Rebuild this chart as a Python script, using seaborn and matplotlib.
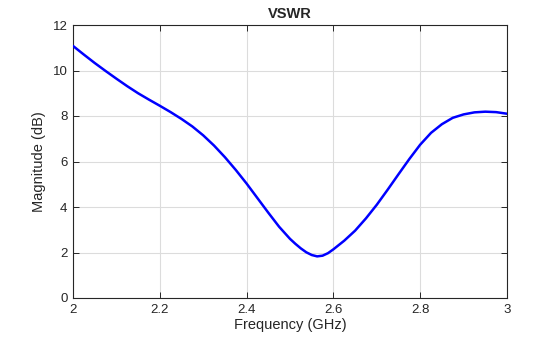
import matplotlib
matplotlib.use("Agg")
import matplotlib.pyplot as plt
import seaborn as sns
import pandas as pd

freq_ghz = [2.000, 2.025, 2.050, 2.075, 2.100, 2.125, 2.150, 2.175, 2.200, 2.225,
            2.250, 2.275, 2.300, 2.325, 2.350, 2.375, 2.400, 2.425, 2.450, 2.475,
            2.500, 2.5125, 2.525, 2.5375, 2.550, 2.5625, 2.575, 2.5875, 2.600,
            2.625, 2.650, 2.675, 2.700, 2.725,
            2.750, 2.775, 2.800, 2.825, 2.850, 2.875, 2.900, 2.925, 2.950, 2.975,
            3.000]
vswr = [11.08, 10.70, 10.33, 9.98, 9.64, 9.31, 9.00, 8.72, 8.45, 8.17,
        7.87, 7.54, 7.15, 6.70, 6.19, 5.63, 5.03, 4.39, 3.75, 3.13,
        2.60, 2.38, 2.18, 2.01, 1.89, 1.83, 1.86, 1.97, 2.14,
        2.52, 2.96, 3.50, 4.10, 4.76,
        5.44, 6.11, 6.74, 7.26, 7.64, 7.92, 8.07, 8.16, 8.19, 8.17,
        8.10]
x_ticks = [2, 2.2, 2.4, 2.6, 2.8, 3]
x_tick_labels = ["2", "2.2", "2.4", "2.6", "2.8", "3"]
y_ticks = [0, 2, 4, 6, 8, 10, 12]

df = pd.DataFrame({"Frequency": freq_ghz, "VSWR": vswr})

sns.set_style("white")
plt.rcParams["font.family"] = ["Liberation Sans", "DejaVu Sans"]

fig = plt.figure(figsize=(5.6, 3.37), dpi=100)
ax = fig.add_axes([73 / 560, 1 - 298 / 337, (507 - 73) / 560, (298 - 25) / 337])

sns.lineplot(data=df, x="Frequency", y="VSWR", ax=ax, color=(0, 0, 1),
             linewidth=1.8, zorder=3)

ax.set_xlim(2, 3)
ax.set_ylim(0, 12)
ax.set_xticks(x_ticks)
ax.set_xticklabels(x_tick_labels)
ax.set_yticks(y_ticks)

tc = "#262626"
ax.grid(True, color="#dcdcdc", linewidth=0.8, zorder=0)
ax.set_axisbelow(True)
for s in ax.spines.values():
    s.set_visible(True)
    s.set_color(tc)
    s.set_linewidth(0.8)
ax.tick_params(direction="in", length=4, width=0.7, colors=tc, labelsize=9.5,
               top=True, right=True, bottom=True, left=True, pad=4)
for lab in ax.get_xticklabels() + ax.get_yticklabels():
    lab.set_color(tc)

ax.set_xlabel("Frequency (GHz)", fontsize=10.5, color=tc, labelpad=2)
ax.set_ylabel("Magnitude (dB)", fontsize=10.5, color=tc, labelpad=5)
ax.set_title("VSWR", fontsize=10.5, fontweight="bold", color=tc, pad=5)

fig.savefig("out.png", dpi=100)
